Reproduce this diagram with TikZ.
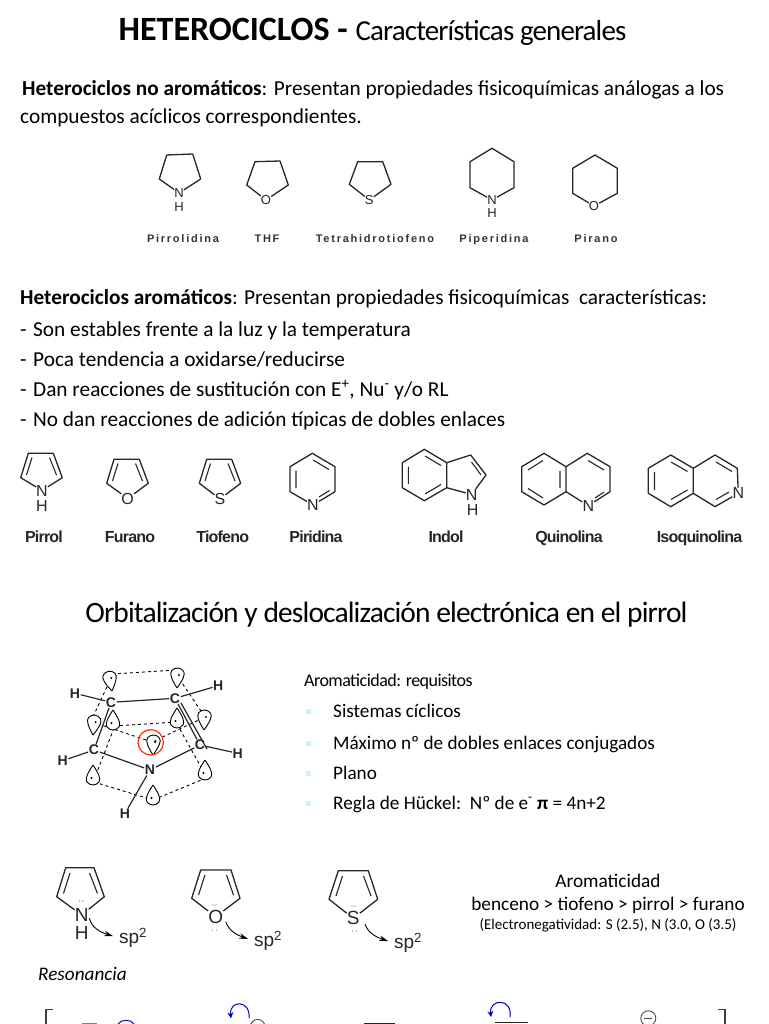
\documentclass[tikz,border=0pt]{standalone}
\usepackage{fontspec}
\setmainfont{Carlito}
\newfontfamily\arialfont{Liberation Sans}
\usetikzlibrary{arrows.meta}

\newcommand{\dashitem}{\makebox[13pt][l]{-}}

\tikzset{
    bond/.style={line width=1.3pt, black!85, line join=round},
    thinbond/.style={line width=1.1pt, black!85},
    orbbond/.style={line width=1.2pt, black!85},
    orbital/.style={dashed, line width=0.9pt},
    atom/.style={font=\arialfont\fontsize{13}{13}\selectfont, inner sep=0pt, text=black!85},
    atombig/.style={font=\arialfont\fontsize{16}{16}\selectfont, inner sep=0pt, text=black!85},
    atomhuge/.style={font=\arialfont\fontsize{19}{19}\selectfont, inner sep=0pt, text=black!85},
    atomorb/.style={font=\arialfont\bfseries\fontsize{14}{14}\selectfont, fill=white, inner sep=0.5pt, text=black!85},
    spaced/.style={font=\arialfont\bfseries\fontsize{11}{11}\selectfont\addfontfeatures{LetterSpace=16}, inner sep=0pt, anchor=base, text=black!80},
    tight/.style={font=\arialfont\bfseries\fontsize{16}{16}\selectfont\addfontfeatures{LetterSpace=-5}, inner sep=0pt, anchor=base, text=black!85},
    body/.style={font=\fontsize{21.3}{21.3}\selectfont, inner sep=0pt, anchor=base west},
    small/.style={font=\fontsize{19.2}{19.2}\selectfont, inner sep=0pt, anchor=base west},
    lobe/.pic={
        \draw[line width=0.9pt, fill=white] (0,0) .. controls (-6,9) and (-8,14) .. (-6,17)
            .. controls (-3,21) and (3,21) .. (6,17)
            .. controls (8,14) and (6,9) .. (0,0);
        \fill (-1.5,13) circle (1.1);
    },
    elect/.style={line width=0.9pt, -{Stealth[length=9pt,width=5.5pt]}, black, shorten >=6pt},
    curl/.style={line width=1pt, blue!80!black, -{Stealth[length=6pt,width=6pt]}}
}

\begin{document}
\begin{tikzpicture}[x=1pt, y=-1pt]
    \useasboundingbox (0,0) rectangle (768,1024);

    % draw title and text
    \node[anchor=base, inner sep=0pt] (title) at (372.5,41) {\fontsize{34}{34}\selectfont\textbf{HETEROCICLOS -} \fontsize{29}{29}\selectfont\addfontfeatures{LetterSpace=-3}Características generales};
    \node[body] (noarom) at (22,96) {\textbf{Heterociclos no aromáticos}: Presentan propiedades fisicoquímicas análogas a los};
    \node[body] (noarom2) at (20,124) {compuestos acíclicos correspondientes.};
    \node[body] (arom) at (20,304) {\textbf{Heterociclos aromáticos}: Presentan propiedades fisicoquímicas\ \ características:};
    \node[body] (arom1) at (20,336) {\dashitem Son estables frente a la luz y la temperatura};
    \node[body] (arom2) at (20,366) {\dashitem Poca tendencia a oxidarse/reducirse};
    \node[body] (arom3) at (20,396) {\dashitem Dan reacciones de sustitución con E\textsuperscript{+}, Nu\textsuperscript{-} y/o RL};
    \node[body] (arom4) at (20,426) {\dashitem No dan reacciones de adición típicas de dobles enlaces};
    \node[anchor=base, inner sep=0pt] (orbtitle) at (386.5,622) {\fontsize{29.5}{29.5}\selectfont\addfontfeatures{LetterSpace=-3}Orbitalización y deslocalización electrónica en el pirrol};

    % draw saturated rings
    \node[atom] (n1) at (179,193) {N};
    \node[atom] (h1) at (179,207) {H};
    \draw[bond] (n1) -- (159.3,179) -- (166.7,155) -- (192.7,154) -- (200.7,179) -- (n1);
    \node[atom] (o1) at (266,200) {O};
    \draw[bond] (o1) -- (246.7,185) -- (255,161.7) -- (280,161) -- (288.3,185) -- (o1);
    \node[atom] (s1) at (369.3,200) {S};
    \draw[bond] (s1) -- (349.3,184.3) -- (357.7,161.7) -- (382.7,161.7) -- (391,184.3) -- (s1);
    \node[atom] (n2) at (492,200) {N};
    \node[atom] (h2) at (492,213) {H};
    \draw[bond] (n2) -- (470,187.7) -- (470,161.7) -- (492,148.3) -- (514,161.7) -- (514,187.7) -- (n2);
    \node[atom] (o2) at (594,206) {O};
    \draw[bond] (o2) -- (572.7,193.3) -- (572.7,168.3) -- (595,155) -- (617.3,168.3) -- (617.3,193.3) -- (o2);

    \node[spaced] (pirrolidina) at (183,242) {Pirrolidina};
    \node[spaced] (thf) at (267,242) {THF};
    \node[spaced] (tetra) at (375,242) {Tetrahidrotiofeno};
    \node[spaced] (piperidina) at (494,242) {Piperidina};
    \node[spaced] (pirano) at (596,242) {Pirano};

    % draw aromatic rings
    \node[atombig] (n3) at (42,490.5) {N};
    \node[atombig] (h3) at (42,505.5) {H};
    \draw[bond] (n3) -- (20.7,477.7) -- (28.3,453.3) -- (53.3,453.3) -- (62.3,477.7) -- (n3);
    \draw[thinbond] (26.5,475) -- (32,457.5) (49.5,457.5) -- (56.5,475);
    \node[atombig] (o3) at (127.7,498.5) {O};
    \draw[bond] (o3) -- (106.7,483.3) -- (114,459.3) -- (139.3,459.3) -- (148.3,483.3) -- (o3);
    \draw[thinbond] (112.5,481) -- (118,463.5) (135.5,463.5) -- (142.5,481);
    \node[atombig] (s3) at (220,499) {S};
    \draw[bond] (s3) -- (199.3,483.3) -- (206.7,459.3) -- (231.7,459.3) -- (240.7,483.3) -- (s3);
    \draw[thinbond] (205,481) -- (210.5,463.5) (228,463.5) -- (235,481);
    \node[atombig] (n4) at (313,505) {N};
    \draw[bond] (n4) -- (290,491.7) -- (290,466.7) -- (312.3,453.3) -- (335,466.7) -- (335,491.7) -- (n4);
    \draw[thinbond] (296,488) -- (296,470.5) (313,460) -- (329,469.5) (319,497) -- (329.5,490.5);

    % indol
    \node[atombig] (n5) at (471.7,494.5) {N};
    \node[atombig] (h5) at (472.7,509.5) {H};
    \draw[bond] (424.3,449.3) -- (446.7,462.7) -- (446.7,487.7) -- (424.3,500.7) -- (402.3,487.7) -- (402.3,462.7) -- cycle;
    \draw[bond] (446.7,462.7) -- (470.7,455) -- (486,475) -- (n5) -- (446.7,487.7);
    \draw[thinbond] (408.3,484) -- (408.3,466.5) (425,456) -- (441,465.5) (425,494) -- (441,484.5) (471.5,462) -- (481,475);

    % quinolina
    \node[atombig] (n6) at (588.3,505.7) {N};
    \draw[bond] (544,453.3) -- (566,466.7) -- (566,491.7) -- (544,505) -- (521.7,491.7) -- (521.7,466.7) -- cycle;
    \draw[bond] (566,466.7) -- (587.3,453.3) -- (610,466.7) -- (610,491.7) -- (n6) -- (566,491.7);
    \draw[thinbond] (528,470) -- (543,460.5) (528,488.5) -- (543,498) (560,471) -- (560,488) (588,460.5) -- (604,470) (595,498) -- (604,492);

    % isoquinolina
    \node[atombig] (n7) at (738.3,493.3) {N};
    \draw[bond] (670.7,455) -- (693.3,468.3) -- (693.3,493.3) -- (670.7,506.7) -- (648.3,493.3) -- (648.3,468.3) -- cycle;
    \draw[bond] (693.3,468.3) -- (715,455) -- (737.3,468.3) -- (n7) -- (715,506.7) -- (693.3,493.3);
    \draw[thinbond] (654.5,472) -- (654.5,490) (671,462) -- (687.5,471.5) (671,499.5) -- (687.5,490) (716,462) -- (732,471.5) (716,499.5) -- (729,492);

    \node[tight] (pirrol) at (44,542) {Pirrol};
    \node[tight] (furano) at (130,542) {Furano};
    \node[tight] (tiofeno) at (222.7,542) {Tiofeno};
    \node[tight] (piridina) at (316,542) {Piridina};
    \node[tight] (indol) at (446,542) {Indol};
    \node[tight] (quinolina) at (569,542) {Quinolina};
    \node[tight] (isoquinolina) at (699.5,542) {Isoquinolina};

    % draw dashed orbital overlap
    \draw[orbital] (112,674) -- (176,670) (112,676) -- (92,719) (176,674) -- (203,714);
    \draw[orbital] (92,722) -- (152,742) (203,718) -- (152,742);
    \draw[orbital] (114,726) -- (177,722) (114,728) -- (94,780) (177,724) -- (206,776);
    \draw[orbital] (94,782) -- (153,800) (206,778) -- (153,800);

    % draw orbital lobes
    \foreach \x/\y/\r in {112/691/190, 177/688/178, 93/735/175, 204/730/178, 153/755/178}
        \pic[rotate=\r] at (\x,\y) {lobe};
    \foreach \x/\y/\r in {113/710/0, 177/708/0, 93/765/0, 205/760/0, 153/785/0}
        \pic[rotate=\r] at (\x,\y) {lobe};
    \fill (155.5,741) circle (1.1);

    % draw atoms of the orbital figure
    \foreach \name/\x/\y/\lab in {cA/111/702.3/C, cB/175/698.3/C, cC/94/750/C, cD/200/745/C, nA/150/770/N,
        hA/75/693.3/H, hB/218.3/685.7/H, hC/62.7/760.7/H, hD/237.7/753.3/H, hE/125/813.3/H}
        \node[atomorb] (\name) at (\x,\y) {\lab};
    \draw[orbbond] (cA) -- (cB) (cA) -- (cC) (cB) -- (cD) (cC) -- (nA) (cD) -- (nA) (nA) -- (hE)
        (cA) -- (hA) (cB) -- (hB) (cC) -- (hC) (cD) -- (hD);
    \draw[orbbond] (181,703) -- (207,749);
    \draw[orange!40!red, line width=1.2pt] (150.7,742.3) circle (12.7);

    % draw requirement list
    \node[small, font=\fontsize{18}{18}\selectfont\addfontfeatures{LetterSpace=-3}] (req) at (304,686) {Aromaticidad: requisitos};
    \foreach \y/\name/\txt in {717/reqA/Sistemas cíclicos, 749/reqB/Máximo nº de dobles enlaces conjugados, 779/reqC/Plano, 809/reqD/{Regla de Hückel:\ \ Nº de e\textsuperscript{-} \textbf{π} = 4n+2}}
    {
        \fill[blue!30!cyan!20] (305.5,\y-8.5) rectangle (310.5,\y-3.5);
        \node[small] (\name) at (333,\y) {\txt};
    }

    % draw rings with lone pairs
    \node[atomhuge] (n8) at (81.7,915) {N};
    \node[atomhuge] (h8) at (81.7,932.5) {H};
    \draw[bond] (n8) -- (56.7,896.7) -- (65.7,867.7) -- (94,867.7) -- (104.3,896.7) -- (n8);
    \draw[thinbond] (63.5,893.5) -- (70,873) (89.5,873) -- (97.5,893.5);
    \node[atomhuge] (o8) at (215.7,916.7) {O};
    \draw[bond] (o8) -- (191.7,898.3) -- (200.7,870) -- (231,870) -- (240,898.3) -- (o8);
    \draw[thinbond] (198.5,895) -- (205,875) (226.5,875) -- (233.5,895);
    \node[atomhuge] (s8) at (353.3,918.3) {S};
    \draw[bond] (s8) -- (329,899.3) -- (338.3,870.7) -- (368.3,870.7) -- (377.7,899.3) -- (s8);
    \draw[thinbond] (336,896) -- (342.5,876) (363.5,876) -- (371,896);

    % draw lone pairs
    \foreach \x/\y/\c in {79.7/901/red, 82.7/901/red, 213/905/red, 216/905/red, 352/906/red, 355/906/red, 212.5/930/gray, 216.5/930/gray, 352.5/931/gray, 356.5/931/gray}
        \fill[\c] (\x,\y) circle (0.6);

    \node[atomhuge] (spA) at (133,938) {sp\textsuperscript{2}};
    \node[atomhuge] (spB) at (268,941) {sp\textsuperscript{2}};
    \node[atomhuge] (spC) at (408,943) {sp\textsuperscript{2}};
    \coordinate (hA1) at (89.3,918.3);
    \coordinate (hB1) at (225.7,921.7);
    \coordinate (hC1) at (365,924);
    \draw[elect] (hA1) .. controls (92,928) and (100,932) .. (spA.west);
    \draw[elect] (hB1) .. controls (229,931) and (237,935) .. (spB.west);
    \draw[elect] (hC1) .. controls (368,933) and (376,937) .. (spC.west);

    % draw aromaticity order
    \node[anchor=base, inner sep=0pt, font=\fontsize{19.3}{19.3}\selectfont] (order0) at (608,887) {Aromaticidad};
    \node[anchor=base, inner sep=0pt, font=\fontsize{19.3}{19.3}\selectfont] (order1) at (608,910) {benceno > tiofeno > pirrol > furano};
    \node[anchor=base, inner sep=0pt, font=\fontsize{15}{15}\selectfont] (order2) at (608,929) {(Electronegatividad: S (2.5), N (3.0, O (3.5)};
    \node[small, font=\itshape\fontsize{19.2}{19.2}\selectfont] (reso) at (38,980) {Resonancia};

    % draw what is left of the resonance row
    \draw[line width=1.3pt, black!75] (52.7,1009.3) -- (46,1009.3) -- (46,1024);
    \draw[line width=1.3pt, black!75] (717.7,1009.3) -- (725,1009.3) -- (725,1024);
    \draw[line width=1pt, black!50] (82,1023.5) -- (97,1023.5);
    \draw[line width=1pt, black!85] (364,1023.5) -- (395,1023.5);
    \draw[line width=1pt, black!85] (495,1022.7) -- (528,1022.7);
    \draw[line width=1pt, blue!80!black] (118,1024) .. controls (121,1019) and (131,1019) .. (134,1024);
    \draw[curl] (249,1018.3) .. controls (251,999.6) and (229,999.6) .. (231,1018.3);
    \draw[curl] (510,1017) .. controls (513,998) and (489,998) .. (491,1017);
    \draw[line width=0.9pt, black!70] (257.7,1026.7) circle (7.3);
    \draw[line width=0.9pt, black!70] (648.3,1018.3) circle (7.5);
    \draw[line width=1.2pt, black!70] (644.3,1018.3) -- (652.3,1018.3);
\end{tikzpicture}
\end{document}
